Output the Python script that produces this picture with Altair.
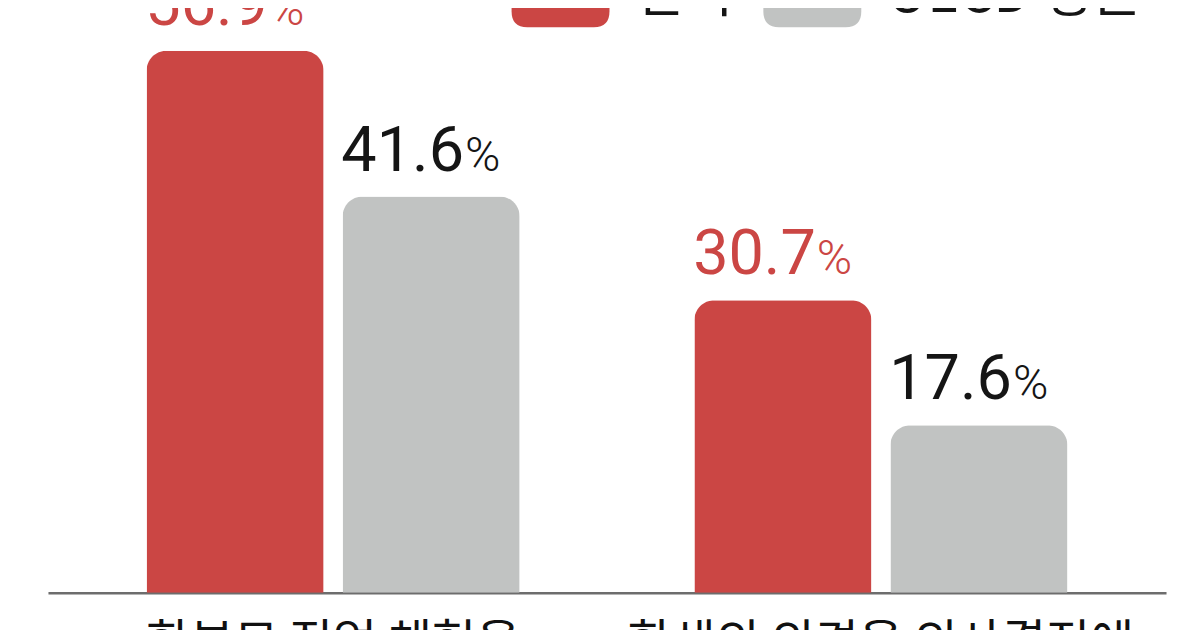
import altair as alt
import pandas as pd

categories = ["학부모 직업 체험을", "학생의 의견을 의사결정에"]
series = ["한국", "OECD 평균"]
korea = [56.9, 30.7]
oecd = [41.6, 17.6]

RED = "#CB4644"
GREY = "#C1C3C2"

rows = []
for i, c in enumerate(categories):
    for s, vals, tc in ((series[0], korea, RED), (series[1], oecd, "#151515")):
        rows.append({"cat": c, "series": s, "value": vals[i],
                     "num": f"{vals[i]:.1f}", "pct": "%", "tcolor": tc})
df = pd.DataFrame(rows)

rr = ("M-0.68,-0.63 L0.68,-0.63 Q1,-0.63 1,-0.31 L1,0.31 Q1,0.63 0.68,0.63 "
      "L-0.68,0.63 Q-1,0.63 -1,0.31 L-1,-0.31 Q-1,-0.63 -0.68,-0.63 Z")

x_enc = alt.X("cat:N", sort=categories,
              scale=alt.Scale(paddingInner=0.319, paddingOuter=0.18),
              axis=alt.Axis(title=None, labelAngle=0, ticks=False, domain=True,
                            domainColor="#6d6d6d", domainWidth=2.5,
                            labelFont="Noto Sans CJK KR", labelFontSize=48,
                            labelColor="#111111", labelPadding=28, labelLimit=0))
xo_enc = alt.XOffset("series:N", sort=series,
                     scale=alt.Scale(paddingInner=0.097, paddingOuter=0))
y_enc = alt.Y("value:Q", scale=alt.Scale(domain=[0, 60]), axis=None)

base = alt.Chart(df)

bars = base.mark_bar(cornerRadiusTopLeft=20, cornerRadiusTopRight=20).encode(
    x=x_enc, xOffset=xo_enc, y=y_enc,
    color=alt.Color("series:N", sort=series,
                    scale=alt.Scale(domain=series, range=[RED, GREY]),
                    legend=alt.Legend(title=None, orient="none", legendX=464, legendY=-74,
                                      direction="horizontal", symbolType=rr,
                                      symbolSize=9604, symbolStrokeWidth=0,
                                      labelFont="Noto Sans CJK KR", labelFontSize=54,
                                      labelColor="#151515", labelOffset=26,
                                      columnPadding=28, padding=0, labelLimit=0)),
)

nums = base.mark_text(font="Roboto", fontSize=63, align="right",
                      baseline="alphabetic", dx=33, dy=-26).encode(
    x=x_enc, xOffset=xo_enc, y=y_enc, text="num:N",
    color=alt.Color("tcolor:N", scale=None))

pcts = base.mark_text(font="Roboto", fontSize=48, fontWeight=300, align="left",
                      baseline="alphabetic", dx=34, dy=-26).encode(
    x=x_enc, xOffset=xo_enc, y=y_enc, text="pct:N",
    color=alt.Color("tcolor:N", scale=None))

chart = alt.layer(bars, nums, pcts).resolve_scale(color="independent").properties(
    width=1119, height=572,
    background="white",
    autosize=alt.AutoSizeParams(type="none"),
    padding={"left": 40, "top": 13, "right": 26, "bottom": 80},
).configure_view(stroke="transparent", strokeWidth=0)

chart.save("out.html", embed_options={"renderer": "svg", "actions": False})
